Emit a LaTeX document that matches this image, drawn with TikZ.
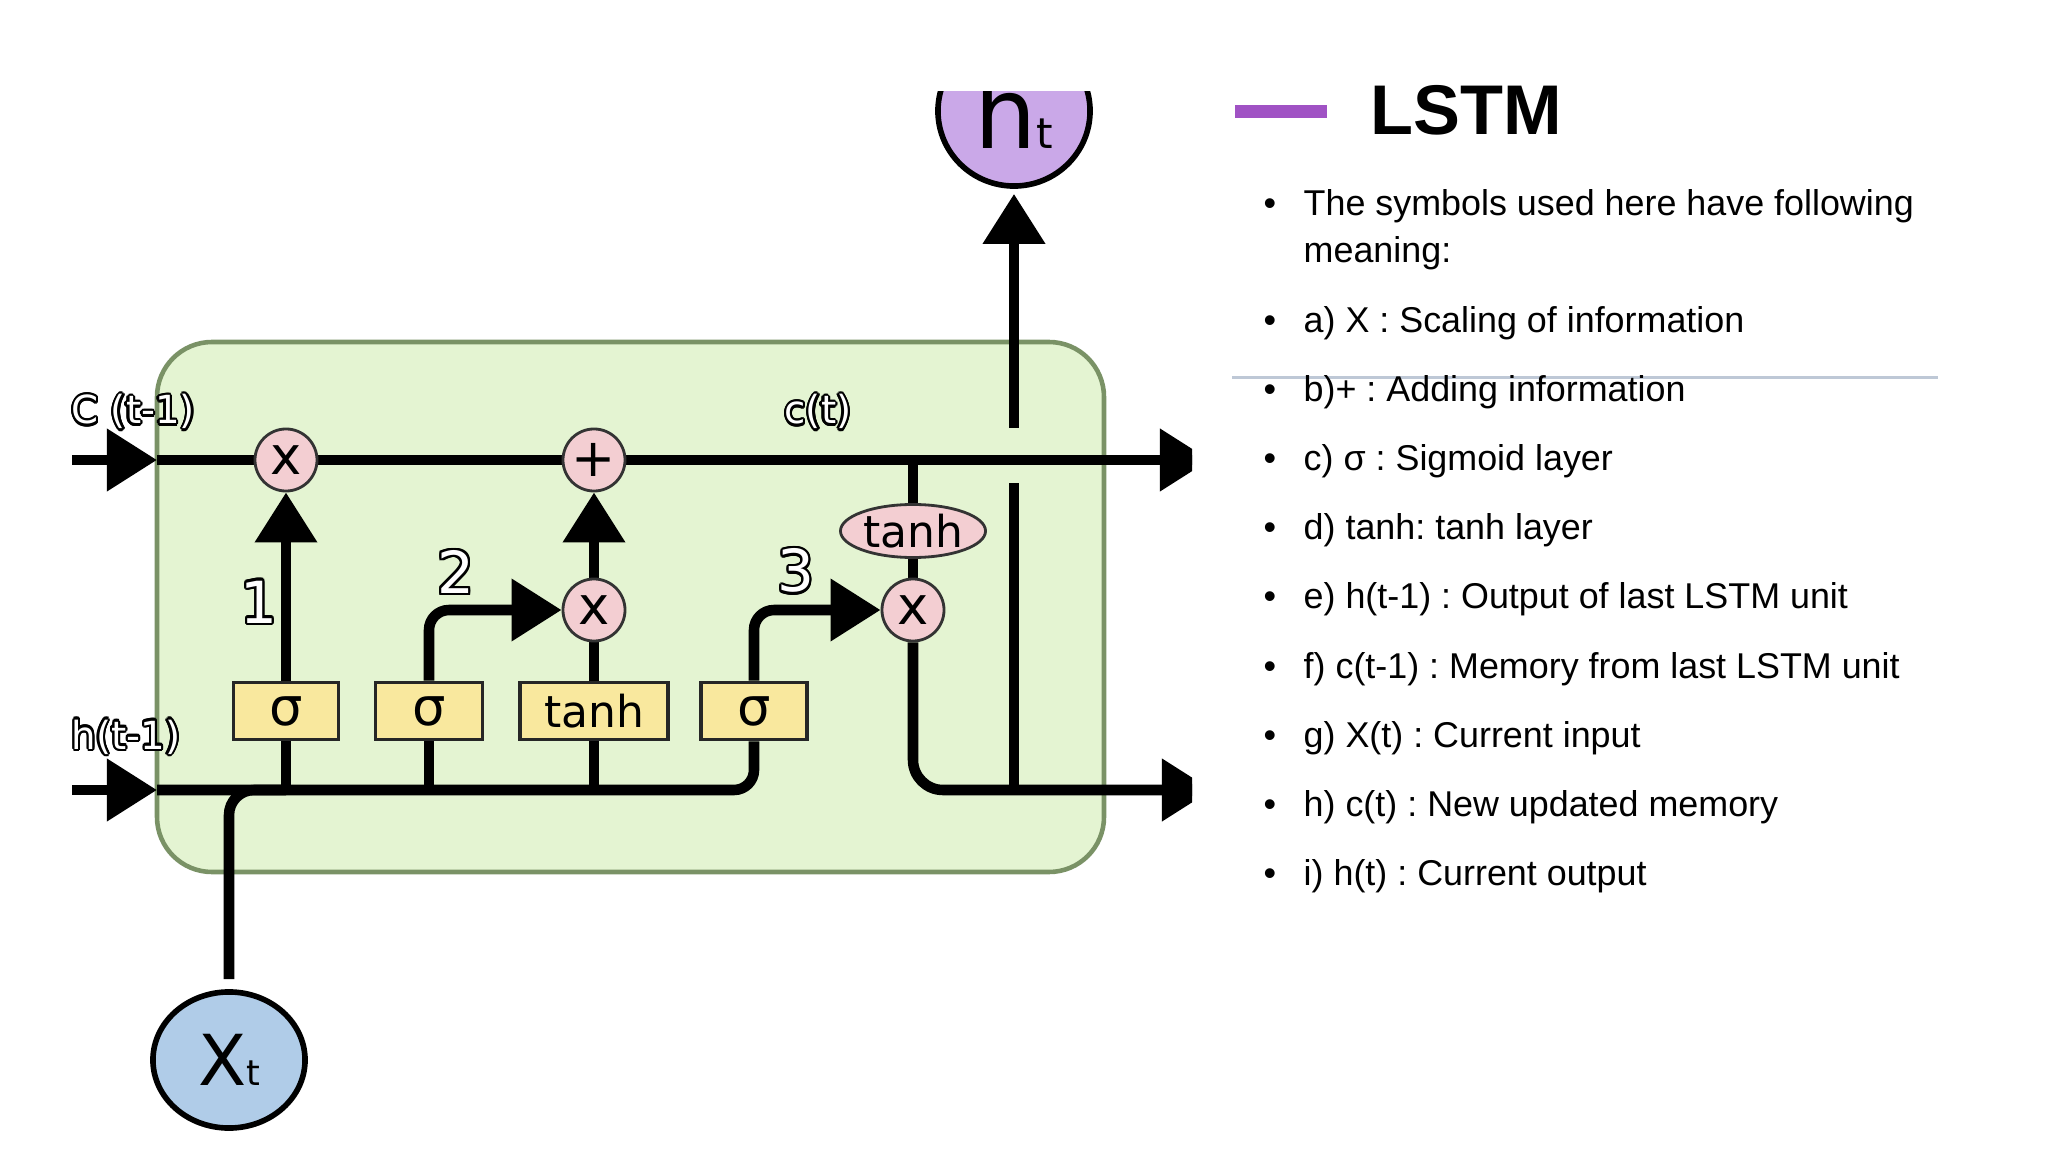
\documentclass[tikz,border=0pt]{standalone}
\usepackage{fontspec}
\setmainfont{Liberation Sans}
\newfontfamily\diafont{DejaVu Sans}
\usepackage{contour}
\contourlength{0.65pt}
\usetikzlibrary{arrows.meta,shapes.geometric}
\frenchspacing

\definecolor{cellgreen}{RGB}{228,244,210}
\definecolor{celledge}{RGB}{122,146,102}
\definecolor{oppink}{RGB}{243,206,210}
\definecolor{gateyellow}{RGB}{249,232,158}
\definecolor{inblue}{RGB}{176,204,232}
\definecolor{outpurple}{RGB}{202,168,232}
\definecolor{barpurple}{RGB}{160,82,196}
\definecolor{rulegray}{RGB}{190,200,214}

\pgfdeclarelayer{cellbg}
\pgfdeclarelayer{wires}
\pgfsetlayers{cellbg,wires,main}

\newcommand{\hollow}[1]{\contour{black}{\textcolor{white}{#1}}}

\begin{document}
\begin{tikzpicture}[x=0.01cm, y=-0.01cm,
    wire/.style={line width=3pt, draw=black},
    >={Triangle[length=0.5cm, width=0.6cm]},
    cell/.style={fill=cellgreen, draw=celledge, line width=1.3pt, rounded corners=0.55cm},
    op/.style={circle, draw=black!80, line width=0.8pt, fill=oppink, inner sep=0pt, minimum size=0.62cm, font=\diafont\fontsize{15}{15}\selectfont},
    gate/.style={rectangle, draw=black!85, line width=1pt, fill=gateyellow, inner sep=0pt, minimum height=0.57cm, font=\diafont\fontsize{15}{15}\selectfont},
    tag/.style={inner sep=0pt, font=\diafont\fontsize{11}{11}\selectfont},
    num/.style={inner sep=0pt, font=\diafont\fontsize{16.5}{16.5}\selectfont},
    io/.style={ellipse, draw=black, line width=1.6pt, inner sep=0pt, minimum width=1.52cm},
    item/.style={anchor=base west, inner sep=0pt, font=\fontsize{10.2}{13.3}\selectfont},
    dot/.style={anchor=base, inner sep=0pt, font=\fontsize{10.2}{13.3}\selectfont}]
    \useasboundingbox (0,0) rectangle (2048,1152);

    \begin{pgfonlayer}{cellbg}
        \draw[cell] (157,342) rectangle (1104,872);
    \end{pgfonlayer}

    \node[op] (f) at (286,460) {x};
    \node[op] (add) at (594,460) {+};
    \node[op] (i) at (594,610) {x};
    \node[op] (o) at (913,610) {x};
    \node[op, ellipse, minimum width=1.45cm, minimum height=0.53cm, font=\diafont\fontsize{12.5}{12.5}\selectfont] (tc) at (913,531) {tanh};
    \node[gate, minimum width=1.05cm] (sf) at (286,711) {σ};
    \node[gate, minimum width=1.07cm] (si) at (429,711) {σ};
    \node[gate, minimum width=1.48cm, font=\diafont\fontsize{12.5}{12.5}\selectfont] (tg) at (594,711) {tanh};
    \node[gate, minimum width=1.06cm] (so) at (754,711) {σ};
    \node[io, fill=inblue, minimum height=1.36cm, font=\diafont\fontsize{20}{20}\selectfont] (xt) at (229,1060) {X\fontsize{10}{10}\selectfont t};
    \begin{scope}
        \clip (0,92) rectangle (2048,1152);
        \node[io, fill=outpurple, minimum height=1.5cm, font=\diafont\fontsize{28}{28}\selectfont] (ht) at (1014,111) {h\fontsize{12}{12}\selectfont t};
    \end{scope}

    \coordinate (cin) at (72,460);
    \coordinate (cedge) at (157,460);
    \coordinate (cout) at (1210,460);
    \coordinate (hin) at (72,790);
    \coordinate (hedge) at (157,790);
    \coordinate (hout) at (1212,790);
    \coordinate (hjoin) at (1014,790);
    \coordinate (gaplo) at (1014,483);
    \coordinate (gaphi) at (1014,428);

    \begin{pgfonlayer}{wires}
        \begin{scope}
            \clip (0,0) rectangle (1192,1152);
            \draw[wire, ->] (cin) -- (cedge);
            \draw[wire] (cedge) -- (f);
            \draw[wire] (f) -- (add);
            \draw[wire, ->] (add) -- (cout);
            \draw[wire, ->] (hin) -- (hedge);
            \draw[wire, rounded corners=0.2cm] (hedge) -| (so.south);
            \draw[wire, rounded corners=0.25cm, shorten <=0.1cm] (xt.north) |- (sf.south |- hedge);
            \draw[wire] (sf.south) -- (sf.south |- hedge);
            \draw[wire] (si.south) -- (si.south |- hedge);
            \draw[wire] (tg.south) -- (tg.south |- hedge);
            \draw[wire, ->] (sf) -- (f);
            \draw[wire, ->, rounded corners=0.2cm] (si) |- (i);
            \draw[wire] (tg) -- (i);
            \draw[wire, ->] (i) -- (add);
            \draw[wire, ->, rounded corners=0.2cm] (so) |- (o);
            \draw[wire] (tc.north |- add) -- (tc);
            \draw[wire] (tc) -- (o);
            \draw[wire, ->, rounded corners=0.3cm] (o) |- (hout);
            \draw[wire] (hjoin) -- (gaplo);
            \draw[wire, ->, shorten >=0.05cm] (gaphi) -- (ht);
        \end{scope}
    \end{pgfonlayer}

    \node[tag, anchor=west] (lc) at (71,413) {\hollow{C (t-1)}};
    \node[tag, anchor=west] (lh) at (71,738) {\hollow{h(t-1)}};
    \node[tag] (lct) at (818,413) {\hollow{c(t)}};
    \node[num] (n1) at (259,603) {\hollow{1}};
    \node[num] (n2) at (456,573) {\hollow{2}};
    \node[num] (n3) at (796,572) {\hollow{3}};

    \fill[barpurple] (1235,105) rectangle (1327,118);
    \node[anchor=base west, inner sep=0pt, font=\fontsize{20}{24}\selectfont\bfseries] (title) at (1370,135) {LSTM};
    \draw[rulegray, line width=0.85pt] (1232,377.5) -- (1938,377.5);

    \node[dot] (d0) at (1270,215.5) {\textbullet};
    \node[item] (t0) at (1303,215.5) {The symbols used here have following};
    \node[item] (t0b) at (1303,262.5) {meaning:};
    \foreach \y/\txt [count=\k] in {333/{a) X : Scaling of information},
                                    402/{b)+ : Adding information},
                                    471/{c) σ : Sigmoid layer},
                                    540/{d) tanh: tanh layer},
                                    609/{e) h(t-1) : Output of last LSTM unit},
                                    678/{f) c(t-1) : Memory from last LSTM unit},
                                    747/{g) X(t) : Current input},
                                    816/{h) c(t) : New updated memory},
                                    885/{i) h(t) : Current output}} {
        \node[dot] (d\k) at (1270,\y) {\textbullet};
        \node[item] (t\k) at (1303,\y) {\txt};
    }
\end{tikzpicture}
\end{document}
